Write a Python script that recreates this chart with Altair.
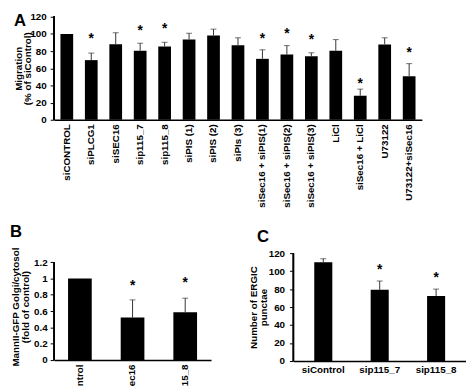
import altair as alt
import pandas as pd

# Panel A: migration
a_groups = ["siCONTROL", "siPLCG1", "siSEC16", "sip115_7", "sip115_8", "siPIS (1)", "siPIS (2)",
            "siPIs (3)", "siSec16 + siPIS(1)", "siSec16 + siPIS(2)", "siSec16 + siPIS(3)", "LiCl",
            "siSec16 + LiCl", "U73122", "U73122+siSec16"]
a_means = [100, 69.5, 88, 80.5, 85.5, 93.5, 98.3, 86.8, 71, 76, 74, 80.4, 28, 87.8, 50.7]
a_sd = [0, 8.2, 13.4, 8.7, 4.8, 7.3, 7.3, 8.7, 10.5, 10.4, 4, 13, 7.7, 7.7, 14.7]
a_star = [None, 99, None, 108, 110.5, None, None, None, 99, 104, 98, None, 46.5, None, 82]
a_ticks = [0, 20, 40, 60, 80, 100, 120]

# Panel B: ManII-GFP Golgi/cytosol
b_groups = ["siControl", "siSec16", "sip115_8"]
b_means = [1.0, 0.52, 0.586]
b_sd = [0, 0.217, 0.172]
b_star = [None, 0.95, 0.99]
b_ticks = [0, 0.2, 0.4, 0.6, 0.8, 1.0, 1.2]

# Panel C: ERGIC punctae
c_groups = ["siControl", "sip115_7", "sip115_8"]
c_means = [109.8, 79.2, 72.3]
c_sd = [4, 9.8, 7.7]
c_star = [None, 105.5, 97]
c_ticks = [0, 20, 40, 60, 80, 100, 120]

FONT = "Liberation Sans"


def panel(groups, means, sd, star, ticks, ymax, ytitle, letter, letter_xy, width, height,
          p_in, p_out, angle, fmt, label_pad, title_pad, extra_left=None):
    df = pd.DataFrame({"group": groups, "mean": means, "sd": sd, "star": star})
    df["top"] = df["mean"] + df["sd"]
    xaxis = alt.Axis(title=None, labelAngle=angle, ticks=False, labelPadding=4,
                     labelLimit=0, labelOverlap=False)
    xscale = alt.Scale(paddingInner=p_in, paddingOuter=p_out)
    yaxis = alt.Axis(values=ticks, title=ytitle, format=fmt, tickSize=4, labelOverlap=False,
                     labelPadding=label_pad, titlePadding=title_pad, domain=False,
                     titleLineHeight=10)
    yscale = alt.Scale(domain=[ticks[0], ymax], nice=False)

    def X():
        return alt.X("group:N", sort=groups, scale=xscale, axis=xaxis)

    def Y(field):
        return alt.Y(field, scale=yscale, axis=yaxis)

    base = alt.Chart(df)
    bars = base.mark_bar(color="black").encode(x=X(), y=Y("mean:Q"))
    err = base.transform_filter("datum.sd > 0")
    rule = err.mark_rule(color="#333333", strokeWidth=1).encode(
        x=X(), y=Y("top:Q"), y2="mean:Q")
    cap = err.mark_tick(color="#333333", thickness=1, size=6).encode(x=X(), y=Y("top:Q"))
    stars = base.transform_filter("isValid(datum.star)").mark_text(
        text="*", fontSize=14, font=FONT, fontWeight="bold", baseline="alphabetic", dy=8
    ).encode(x=X(), y=Y("star:Q"))
    yline = base.mark_rule(color="black", strokeWidth=1.5).encode(
        x=alt.value(0),
        y=alt.Y(datum=ticks[0], scale=yscale, axis=yaxis),
        y2=alt.Y2(datum=ticks[-1]))
    lab = alt.Chart(pd.DataFrame({"t": [letter]})).mark_text(
        fontSize=17, font=FONT, fontWeight="bold", align="left", baseline="middle"
    ).encode(x=alt.value(letter_xy[0]), y=alt.value(letter_xy[1]), text="t:N")
    layers = [bars, rule, cap, stars, yline, lab]
    if extra_left is not None:
        layers.append(alt.Chart(pd.DataFrame({"t": [0]})).mark_rule(color="white", opacity=0).encode(
            x=alt.value(extra_left), y=alt.value(0), y2=alt.value(10)))
    return alt.layer(*layers).properties(width=width, height=height)


A = panel(a_groups, a_means, a_sd, a_star, a_ticks, 120, ["Migration", "(% of siControl)"],
          "A", (-41, 4), 375, 105, 0.48, 0.26, -90, "d", 4, -3)
B = panel(b_groups, b_means, b_sd, b_star, b_ticks, 1.31,
          ["MannII-GFP Golgi/cytosol", "(fold of control)"],
          "B", (-45, -21), 160, 109, 0.55, 0.265, -90, "~g", 3, 3, extra_left=-47)
C = panel(c_groups, c_means, c_sd, c_star, c_ticks, 120, ["Number of ERGIC", "punctae"],
          "C", (-37, -16), 176, 110, 0.68, 0.37, 0, "d", 5, 0)

chart = alt.concat(A, alt.hconcat(B, C, spacing=38), columns=1, spacing=16, align="none").properties(
    padding={"left": 0, "top": 0, "right": 0, "bottom": 0}
).configure_view(stroke=None).configure_axis(
    labelFont=FONT, labelFontWeight="bold", labelFontSize=10, labelColor="black",
    titleFont=FONT, titleFontWeight="bold", titleFontSize=10, titleColor="black",
    domainColor="black", tickColor="black", grid=False, domainWidth=1.5
)

chart.save("out.html", embed_options={"renderer": "svg", "actions": False})
